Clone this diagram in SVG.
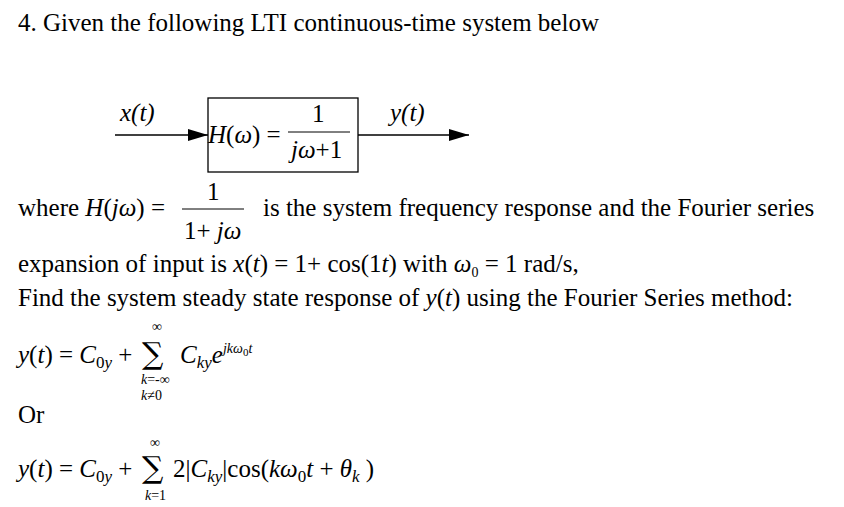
<svg xmlns="http://www.w3.org/2000/svg" width="844" height="507" viewBox="0 0 844 507" font-family="'Liberation Serif', serif">
<defs><marker id="ar" markerWidth="20" markerHeight="12" refX="20" refY="6" orient="auto" markerUnits="userSpaceOnUse"><path d="M0,0 L20,6 L0,12 z" fill="#000"/></marker></defs>
<style>text{font-size:25px;fill:#000}.i{font-style:italic}.s{font-size:14px}.m{font-size:17px}.sum{font-family:"DejaVu Serif",serif;font-size:30px}</style>
<rect width="844" height="507" fill="#fff"/>
<text x="18" y="31">4. Given the following LTI continuous-time system below</text>
<g id="connectors" stroke="#000" stroke-width="1.5">
<line x1="115" y1="135" x2="208" y2="135" marker-end="url(#ar)"/>
<line x1="358" y1="135" x2="469" y2="135" marker-end="url(#ar)"/>
</g>
<g id="input"><text x="120" y="121" class="i">x(t)</text></g>
<g id="output"><text x="390" y="121" class="i">y(t)</text></g>
<g id="system">
<rect x="208" y="98" width="150" height="74" fill="none" stroke="#000" stroke-width="1.3"/>
<text x="208" y="143"><tspan class="i">H</tspan>(<tspan class="i">ω</tspan>) =</text>
<line x1="288" y1="132" x2="350" y2="132" stroke="#000" stroke-width="1"/>
<text x="312" y="122">1</text>
<text x="291" y="158"><tspan class="i">jω</tspan>+1</text>
</g>
<text x="18" y="216">where <tspan class="i">H</tspan>(<tspan class="i">jω</tspan>) =</text>
<line x1="182" y1="209" x2="244" y2="209" stroke="#000" stroke-width="1"/>
<text x="207" y="200">1</text>
<text x="184" y="239">1+ <tspan class="i">jω</tspan></text>
<text x="263" y="216">is the system frequency response and the Fourier series</text>
<text x="18" y="272">expansion of input is <tspan class="i">x</tspan>(<tspan class="i">t</tspan>) = 1+ cos(1<tspan class="i">t</tspan>)  with <tspan class="i">ω</tspan><tspan class="s" dy="5">0</tspan><tspan dy="-5"> = 1 rad/s,</tspan></text>
<text x="18" y="306">Find the system steady state response of <tspan class="i">y</tspan>(<tspan class="i">t</tspan>) using the Fourier Series method:</text>
<text x="18" y="363" font-family="'Liberation Serif', serif"><tspan class="i">y</tspan>(<tspan class="i">t</tspan>) = <tspan class="i">C</tspan><tspan class="m" dy="5">0</tspan><tspan class="m i">y</tspan><tspan dy="-5"> + </tspan></text>
<text x="142" y="364" class="sum">∑</text>
<text x="152" y="331" class="s">∞</text>
<text x="141" y="384" class="s"><tspan class="i">k</tspan>=-∞</text>
<text x="141" y="400" class="s"><tspan class="i">k</tspan>≠0</text>
<text x="180" y="363" font-family="'Liberation Serif', serif"><tspan class="i">C</tspan><tspan class="m i" dy="5">ky</tspan><tspan class="i" dy="-5">e</tspan><tspan class="s i" dy="-10">jkω</tspan><tspan style="font-size:11px" dy="3">0</tspan><tspan class="s i" dy="-3">t</tspan></text>
<text x="18" y="423">Or</text>
<text x="18" y="477" font-family="'Liberation Serif', serif"><tspan class="i">y</tspan>(<tspan class="i">t</tspan>) = <tspan class="i">C</tspan><tspan class="m" dy="5">0</tspan><tspan class="m i">y</tspan><tspan dy="-5"> + </tspan></text>
<text x="142" y="478" class="sum">∑</text>
<text x="150" y="447" class="s">∞</text>
<text x="145" y="500" class="s"><tspan class="i">k</tspan>=1</text>
<text x="173" y="477" font-family="'Liberation Serif', serif">2|<tspan class="i">C</tspan><tspan class="m i" dy="5">ky</tspan><tspan dy="-5">|cos(</tspan><tspan class="i">kω</tspan><tspan class="m" dy="5">0</tspan><tspan class="i" dy="-5">t</tspan> + <tspan class="i">θ</tspan><tspan class="m i" dy="5">k</tspan><tspan dy="-5"> )</tspan></text>
</svg>
